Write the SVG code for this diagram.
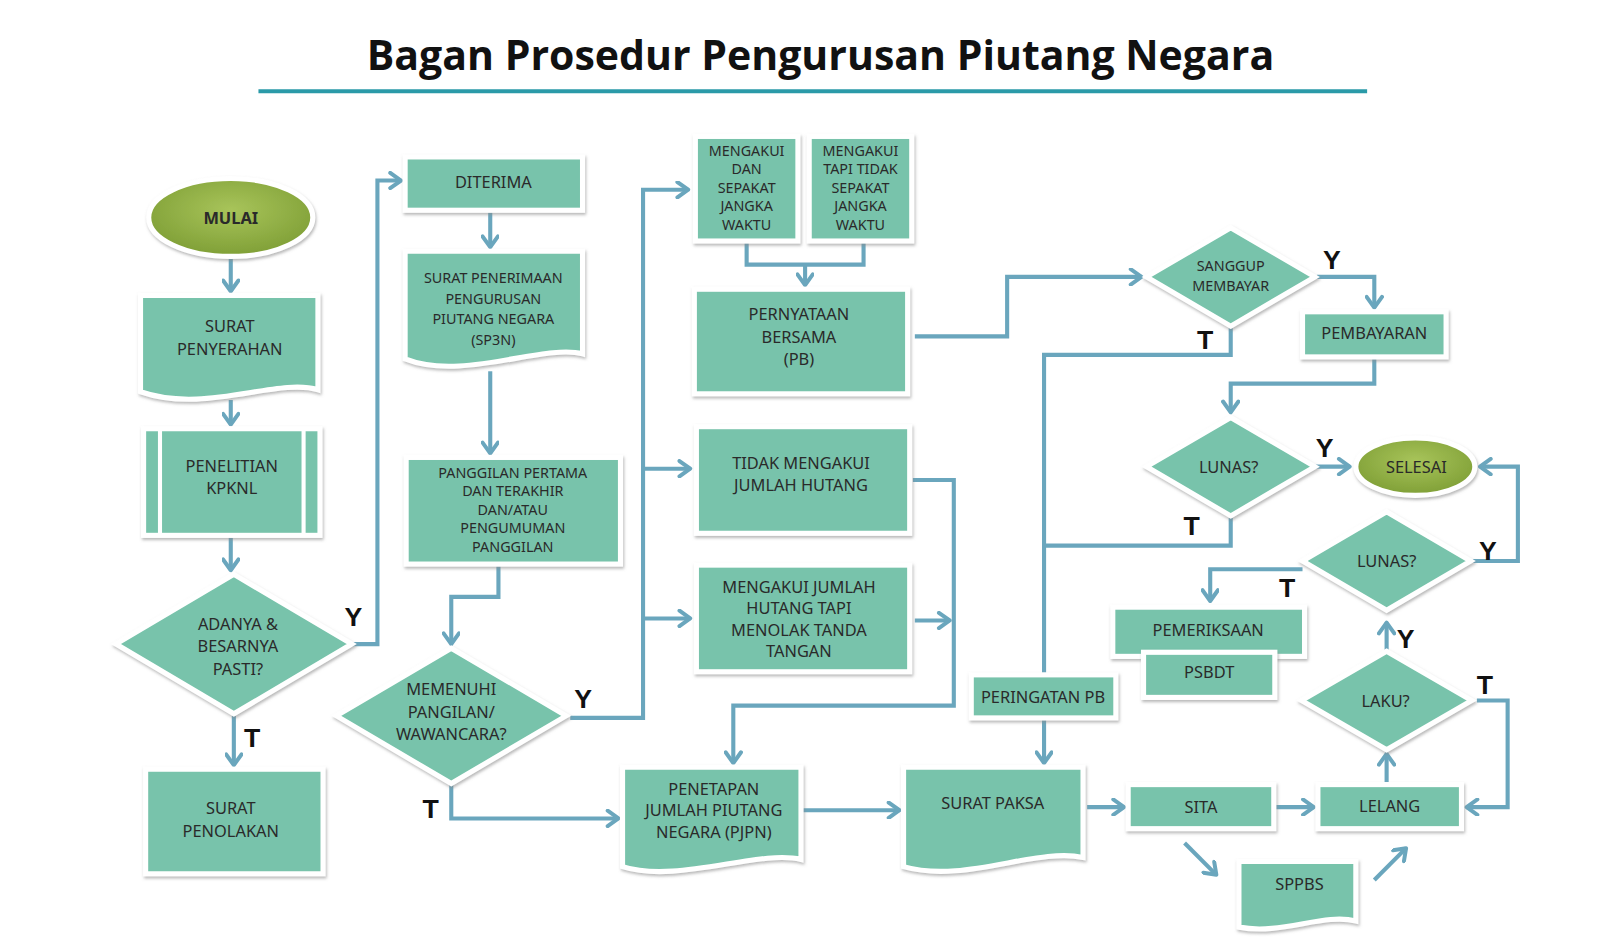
<svg xmlns="http://www.w3.org/2000/svg" width="1600" height="938" viewBox="0 0 1600 938">
<defs>
<filter id="sh" x="-10%" y="-10%" width="120%" height="130%"><feDropShadow dx="1" dy="2" stdDeviation="1.5" flood-color="#888" flood-opacity="0.6"/></filter>
<radialGradient id="og" cx="50%" cy="40%" r="60%"><stop offset="0" stop-color="#a8c45a"/><stop offset="1" stop-color="#7f9f36"/></radialGradient>
<marker id="ar" viewBox="0 0 12 12" refX="9" refY="6" markerWidth="4.5" markerHeight="4.5" orient="auto" markerUnits="strokeWidth"><path d="M2,1 L9,6 L2,11" fill="none" stroke="#6aa6bd" stroke-width="2.6" stroke-linecap="round" stroke-linejoin="round"/></marker>
</defs>
<style>
.b{fill:#78c3ab;stroke:#fff;stroke-width:5;filter:url(#sh)}
.o{fill:url(#og);stroke:#fff;stroke-width:5;filter:url(#sh)}
.c{fill:none;stroke:#6aa6bd;stroke-width:4;stroke-linejoin:miter}
.a{marker-end:url(#ar)}
text{font-family:"Noto Sans","Open Sans",sans-serif;font-size:16px;fill:#2a2a2a;text-anchor:middle}
.s{font-size:14px}
.l{font-family:"Liberation Sans",Arial,sans-serif;font-size:26px;font-weight:bold;fill:#111;text-anchor:start}
.t{font-family:"Open Sans","Noto Sans",sans-serif;font-size:40px;font-weight:bold;fill:#111}
</style>
<rect width="1600" height="938" fill="#fff"/>
<g transform="scale(1.0256)">
<text class="t" x="800" y="68">Bagan Prosedur Pengurusan Piutang Negara</text>
<line x1="252" y1="89" x2="1333" y2="89" stroke="#2a9aa8" stroke-width="4"/>

<g id="connectors">
<path class="c a" d="M225,252V284"/>
<path class="c a" d="M225,390V414"/>
<path class="c a" d="M225,524V556"/>
<path class="c a" d="M228,698V746"/>
<path class="c a" d="M343,628H368V176H391"/>
<path class="c a" d="M478,207V241"/>
<path class="c a" d="M478,362V442"/>
<path class="c a" d="M486,552V582H440V628"/>
<path class="c a" d="M556,700H627V185H671"/>
<path class="c a" d="M627,457H673"/>
<path class="c a" d="M627,603H673"/>
<path class="c a" d="M440,765V798H603"/>
<path class="c" d="M728,237V258H842V237"/>
<path class="c a" d="M785,258V278"/>
<path class="c a" d="M892,328H982V270H1113"/>
<path class="c a" d="M890,468H930V688H715V744"/>
<path class="c a" d="M892,605H926"/>
<path class="c a" d="M783,790H877"/>
<path class="c a" d="M1060,787H1096"/>
<path class="c a" d="M1244,787H1281"/>
<path class="c a" d="M1155,822L1186,853"/>
<path class="c a" d="M1340,858L1371,827"/>
<path class="c a" d="M1352,763V735"/>
<path class="c a" d="M1352,635V607"/>
<path class="c a" d="M1440,683H1470V787H1430"/>
<path class="c a" d="M1436,547H1480V455H1443"/>
<path class="c a" d="M1270,555H1180V586"/>
<path class="c a" d="M1284,270H1340V300"/>
<path class="c a" d="M1200,320V346H1018V744"/>
<path class="c" d="M1200,505V532H1018"/>
<path class="c a" d="M1340,350V374H1200V402"/>
<path class="c a" d="M1283,455H1316"/>
</g>

<g id="labels">
<text class="l" x="238" y="728">T</text>
<text class="l" x="336" y="610">Y</text>
<text class="l" x="560" y="690">Y</text>
<text class="l" x="412" y="798">T</text>
<text class="l" x="1290" y="262">Y</text>
<text class="l" x="1167" y="340">T</text>
<text class="l" x="1283" y="446">Y</text>
<text class="l" x="1154" y="522">T</text>
<text class="l" x="1442" y="546">Y</text>
<text class="l" x="1247" y="582">T</text>
<text class="l" x="1362" y="632">Y</text>
<text class="l" x="1440" y="677">T</text>
</g>

<g id="mulai"><ellipse class="o" cx="225" cy="212" rx="80" ry="38"/><text x="225" y="218" font-weight="bold" style="font-weight:bold">MULAI</text></g>
<g id="surat-penyerahan"><path class="b" d="M137,288H310V380C270,368 200,404 137,382Z"/><text x="224" y="324">SURAT</text><text x="224" y="346">PENYERAHAN</text></g>
<g id="penelitian"><rect class="b" x="140" y="418" width="172" height="104"/><path d="M156,420V520M296,420V520" stroke="#fff" stroke-width="4"/><text x="226" y="460">PENELITIAN</text><text x="226" y="482">KPKNL</text></g>
<g id="adanya"><path class="b" d="M228,560L343,628L228,696L113,628Z"/><text x="232" y="614">ADANYA &amp;</text><text x="232" y="636">BESARNYA</text><text x="232" y="658">PASTI?</text></g>
<g id="penolakan"><rect class="b" x="142" y="750" width="173" height="102"/><text x="225" y="794">SURAT</text><text x="225" y="816">PENOLAKAN</text></g>
<g id="diterima"><rect class="b" x="395" y="153" width="173" height="52"/><text x="481" y="183">DITERIMA</text></g>
<g id="sp3n"><path class="b" d="M395,245H568V345C530,335 450,372 395,350Z"/><text x="481" y="276" class="s">SURAT PENERIMAAN</text><text x="481" y="296" class="s">PENGURUSAN</text><text x="481" y="316" class="s">PIUTANG NEGARA</text><text x="481" y="336" class="s">(SP3N)</text></g>
<g id="panggilan"><rect class="b" x="396" y="446" width="209" height="104"/><text x="500" y="466" class="s">PANGGILAN PERTAMA</text><text x="500" y="484" class="s">DAN TERAKHIR</text><text x="500" y="502" class="s">DAN/ATAU</text><text x="500" y="520" class="s">PENGUMUMAN</text><text x="500" y="538" class="s">PANGGILAN</text></g>
<g id="memenuhi"><path class="b" d="M440,632L552,698L440,764L328,698Z"/><text x="440" y="678">MEMENUHI</text><text x="440" y="700">PANGILAN/</text><text x="440" y="722">WAWANCARA?</text></g>
<g id="mengakui-sepakat"><rect class="b" x="678" y="133" width="100" height="102"/><text x="728" y="152" class="s">MENGAKUI</text><text x="728" y="170" class="s">DAN</text><text x="728" y="188" class="s">SEPAKAT</text><text x="728" y="206" class="s">JANGKA</text><text x="728" y="224" class="s">WAKTU</text></g>
<g id="mengakui-tidak"><rect class="b" x="789" y="133" width="100" height="102"/><text x="839" y="152" class="s">MENGAKUI</text><text x="839" y="170" class="s">TAPI TIDAK</text><text x="839" y="188" class="s">SEPAKAT</text><text x="839" y="206" class="s">JANGKA</text><text x="839" y="224" class="s">WAKTU</text></g>
<g id="pb"><rect class="b" x="677" y="282" width="208" height="102"/><text x="779" y="312">PERNYATAAN</text><text x="779" y="334">BERSAMA</text><text x="779" y="356">(PB)</text></g>
<g id="tidak-mengakui"><rect class="b" x="679" y="416" width="208" height="104"/><text x="781" y="457">TIDAK MENGAKUI</text><text x="781" y="479">JUMLAH HUTANG</text></g>
<g id="menolak"><rect class="b" x="679" y="551" width="208" height="104"/><text x="779" y="578">MENGAKUI JUMLAH</text><text x="779" y="599">HUTANG TAPI</text><text x="779" y="620">MENOLAK TANDA</text><text x="779" y="641">TANGAN</text></g>
<g id="pjpn"><path class="b" d="M607,748H781V838C740,828 660,862 607,845Z"/><text x="696" y="775">PENETAPAN</text><text x="696" y="796">JUMLAH PIUTANG</text><text x="696" y="817">NEGARA (PJPN)</text></g>
<g id="surat-paksa"><path class="b" d="M881,748H1056V836C1010,826 940,862 881,845Z"/><text x="968" y="789">SURAT PAKSA</text></g>
<g id="peringatan"><rect class="b" x="947" y="658" width="141" height="42"/><text x="1017" y="685">PERINGATAN PB</text></g>
<g id="sanggup"><path class="b" d="M1200,222L1282,270L1200,318L1118,270Z"/><text x="1200" y="264" class="s">SANGGUP</text><text x="1200" y="284" class="s">MEMBAYAR</text></g>
<g id="pembayaran"><rect class="b" x="1270" y="304" width="140" height="44"/><text x="1340" y="331">PEMBAYARAN</text></g>
<g id="lunas1"><path class="b" d="M1200,407L1282,455L1200,503L1118,455Z"/><text x="1198" y="461">LUNAS?</text></g>
<g id="selesai"><ellipse class="o" cx="1380" cy="455" rx="58" ry="28"/><text x="1381" y="461">SELESAI</text></g>
<g id="lunas2"><path class="b" d="M1352,499L1434,547L1352,595L1270,547Z"/><text x="1352" y="553">LUNAS?</text></g>
<g id="pemeriksaan"><rect class="b" x="1085" y="592" width="187" height="48"/><text x="1178" y="620">PEMERIKSAAN</text></g>
<g id="psbdt"><rect class="b" x="1115" y="636" width="128" height="44"/><text x="1179" y="661">PSBDT</text></g>
<g id="laku"><path class="b" d="M1352,635L1435,683L1352,731L1269,683Z"/><text x="1351" y="689">LAKU?</text></g>
<g id="sita"><rect class="b" x="1100" y="765" width="142" height="43"/><text x="1171" y="793">SITA</text></g>
<g id="lelang"><rect class="b" x="1285" y="765" width="140" height="43"/><text x="1355" y="792">LELANG</text></g>
<g id="sppbs"><path class="b" d="M1208,840H1322V898C1290,890 1250,912 1208,904Z"/><text x="1267" y="868">SPPBS</text></g>
</g>
</svg>
